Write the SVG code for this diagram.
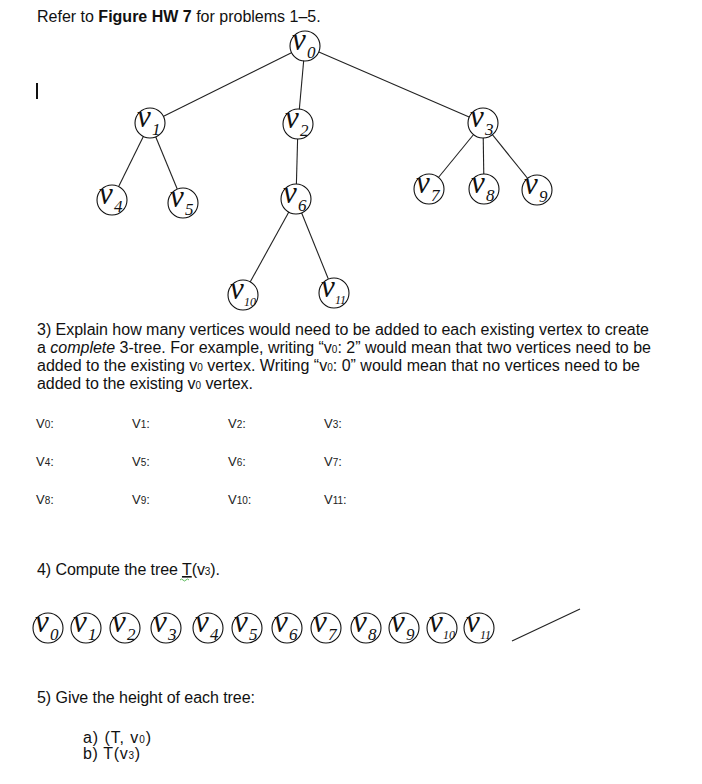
<svg xmlns="http://www.w3.org/2000/svg" width="702" height="784" viewBox="0 0 702 784">
<style>
.t{font-family:"Liberation Sans",Arial,sans-serif;font-size:16px;fill:#111}
.g{font-family:"Liberation Sans",Arial,sans-serif;font-size:13px;fill:#222}
.s{font-size:10px}
.n circle{fill:#fff;stroke:#111;stroke-width:1.1}
.v{font-family:"Liberation Serif","Times New Roman",serif;font-style:italic;font-size:31px;fill:#111}
.sb{font-family:"Liberation Serif","Times New Roman",serif;font-style:italic;font-size:17px;fill:#111}
.sb2{font-family:"Liberation Serif","Times New Roman",serif;font-style:italic;font-size:12px;fill:#111}
.e line{stroke:#222;stroke-width:1.1}
</style>
<rect width="702" height="784" fill="#fff"/>
<text class="t" x="37" y="22">Refer to <tspan font-weight="bold">Figure HW 7</tspan> for problems 1–5.</text>
<rect x="36" y="83" width="2" height="16" fill="#111"/>
<g class="e" id="edges">
<line x1="305" y1="46" x2="150" y2="123"/>
<line x1="305" y1="46" x2="298" y2="124"/>
<line x1="305" y1="46" x2="483" y2="123"/>
<line x1="150" y1="123" x2="112" y2="200"/>
<line x1="150" y1="123" x2="183" y2="203"/>
<line x1="298" y1="124" x2="296" y2="199"/>
<line x1="296" y1="199" x2="243" y2="295"/>
<line x1="296" y1="199" x2="334" y2="293"/>
<line x1="483" y1="123" x2="429" y2="189"/>
<line x1="483" y1="123" x2="484" y2="189"/>
<line x1="483" y1="123" x2="537" y2="190"/>
</g>
<g class="n" id="v0"><circle cx="305" cy="46" r="15"/><text class="v" x="292" y="50">v</text><text class="sb" x="307" y="58">0</text></g>
<g class="n" id="v1"><circle cx="150" cy="123" r="15"/><text class="v" x="137" y="127">v</text><text class="sb" x="152" y="135">1</text></g>
<g class="n" id="v2"><circle cx="298" cy="124" r="15"/><text class="v" x="285" y="128">v</text><text class="sb" x="300" y="136">2</text></g>
<g class="n" id="v3"><circle cx="483" cy="123" r="15"/><text class="v" x="470" y="127">v</text><text class="sb" x="485" y="135">3</text></g>
<g class="n" id="v4"><circle cx="112" cy="200" r="15"/><text class="v" x="99" y="204">v</text><text class="sb" x="114" y="212">4</text></g>
<g class="n" id="v5"><circle cx="183" cy="203" r="15"/><text class="v" x="170" y="207">v</text><text class="sb" x="185" y="215">5</text></g>
<g class="n" id="v6"><circle cx="296" cy="199" r="15"/><text class="v" x="283" y="203">v</text><text class="sb" x="298" y="211">6</text></g>
<g class="n" id="v7"><circle cx="429" cy="189" r="15"/><text class="v" x="416" y="193">v</text><text class="sb" x="431" y="201">7</text></g>
<g class="n" id="v8"><circle cx="484" cy="189" r="15"/><text class="v" x="471" y="193">v</text><text class="sb" x="486" y="201">8</text></g>
<g class="n" id="v9"><circle cx="537" cy="190" r="15"/><text class="v" x="524" y="194">v</text><text class="sb" x="539" y="202">9</text></g>
<g class="n" id="v10"><circle cx="243" cy="295" r="15"/><text class="v" x="230" y="299">v</text><text class="sb2" x="244" y="306">10</text></g>
<g class="n" id="v11"><circle cx="334" cy="293" r="15"/><text class="v" x="321" y="297">v</text><text class="sb2" x="335" y="304">11</text></g>
<g id="q3">
<text class="t" x="37" y="335" textLength="612" lengthAdjust="spacing">3) Explain how many vertices would need to be added to each existing vertex to create</text>
<text class="t" x="37" y="353" textLength="614" lengthAdjust="spacing">a <tspan font-style="italic">complete</tspan> 3-tree. For example, writing “v<tspan class="s">0</tspan>: 2” would mean that two vertices need to be</text>
<text class="t" x="37" y="371" textLength="603" lengthAdjust="spacing">added to the existing v<tspan class="s">0</tspan> vertex. Writing “v<tspan class="s">0</tspan>: 0” would mean that no vertices need to be</text>
<text class="t" x="37" y="389" textLength="216" lengthAdjust="spacing">added to the existing v<tspan class="s">0</tspan> vertex.</text>
</g>
<g id="grid">
<text class="g" x="36" y="428">V<tspan class="s">0</tspan>:</text>
<text class="g" x="132" y="428">V<tspan class="s">1</tspan>:</text>
<text class="g" x="228" y="428">V<tspan class="s">2</tspan>:</text>
<text class="g" x="324" y="428">V<tspan class="s">3</tspan>:</text>
<text class="g" x="36" y="466">V<tspan class="s">4</tspan>:</text>
<text class="g" x="132" y="466">V<tspan class="s">5</tspan>:</text>
<text class="g" x="228" y="466">V<tspan class="s">6</tspan>:</text>
<text class="g" x="324" y="466">V<tspan class="s">7</tspan>:</text>
<text class="g" x="36" y="504">V<tspan class="s">8</tspan>:</text>
<text class="g" x="132" y="504">V<tspan class="s">9</tspan>:</text>
<text class="g" x="228" y="504">V<tspan class="s">10</tspan>:</text>
<text class="g" x="324" y="504">V<tspan class="s">11</tspan>:</text>
</g>
<text class="t" x="37" y="575" textLength="183" lengthAdjust="spacing">4) Compute the tree <tspan text-decoration="underline">T</tspan>(v<tspan class="s">3</tspan>).</text>
<path d="M180 580 q1.5 -2 3 0 t3 0 t3 0" fill="none" stroke="#3a3" stroke-width="0.8"/>
<g id="row">
<g class="n" id="r0"><circle cx="48" cy="628" r="15"/><text class="v" x="35" y="632">v</text><text class="sb" x="50" y="640">0</text></g>
<g class="n" id="r1"><circle cx="86" cy="628" r="15"/><text class="v" x="73" y="632">v</text><text class="sb" x="88" y="640">1</text></g>
<g class="n" id="r2"><circle cx="125" cy="628" r="15"/><text class="v" x="112" y="632">v</text><text class="sb" x="127" y="640">2</text></g>
<g class="n" id="r3"><circle cx="166" cy="628" r="15"/><text class="v" x="153" y="632">v</text><text class="sb" x="168" y="640">3</text></g>
<g class="n" id="r4"><circle cx="208" cy="628" r="15"/><text class="v" x="195" y="632">v</text><text class="sb" x="210" y="640">4</text></g>
<g class="n" id="r5"><circle cx="247" cy="628" r="15"/><text class="v" x="234" y="632">v</text><text class="sb" x="249" y="640">5</text></g>
<g class="n" id="r6"><circle cx="287" cy="628" r="15"/><text class="v" x="274" y="632">v</text><text class="sb" x="289" y="640">6</text></g>
<g class="n" id="r7"><circle cx="326" cy="628" r="15"/><text class="v" x="313" y="632">v</text><text class="sb" x="328" y="640">7</text></g>
<g class="n" id="r8"><circle cx="366" cy="628" r="15"/><text class="v" x="353" y="632">v</text><text class="sb" x="368" y="640">8</text></g>
<g class="n" id="r9"><circle cx="404" cy="628" r="15"/><text class="v" x="391" y="632">v</text><text class="sb" x="406" y="640">9</text></g>
<g class="n" id="r10"><circle cx="442" cy="628" r="15"/><text class="v" x="429" y="632">v</text><text class="sb2" x="443" y="639">10</text></g>
<g class="n" id="r11"><circle cx="479" cy="628" r="15"/><text class="v" x="466" y="632">v</text><text class="sb2" x="480" y="639">11</text></g>
</g>
<line x1="512" y1="641" x2="580" y2="609" stroke="#222" stroke-width="1.1"/>
<text class="t" x="37" y="703" textLength="218" lengthAdjust="spacing">5) Give the height of each tree:</text>
<text class="t" x="83" y="743" textLength="68" lengthAdjust="spacing">a)  (T,  v<tspan class="s">0</tspan>)</text>
<text class="t" x="83" y="759" textLength="57" lengthAdjust="spacing">b)  T(v<tspan class="s">3</tspan>)</text>
</svg>
